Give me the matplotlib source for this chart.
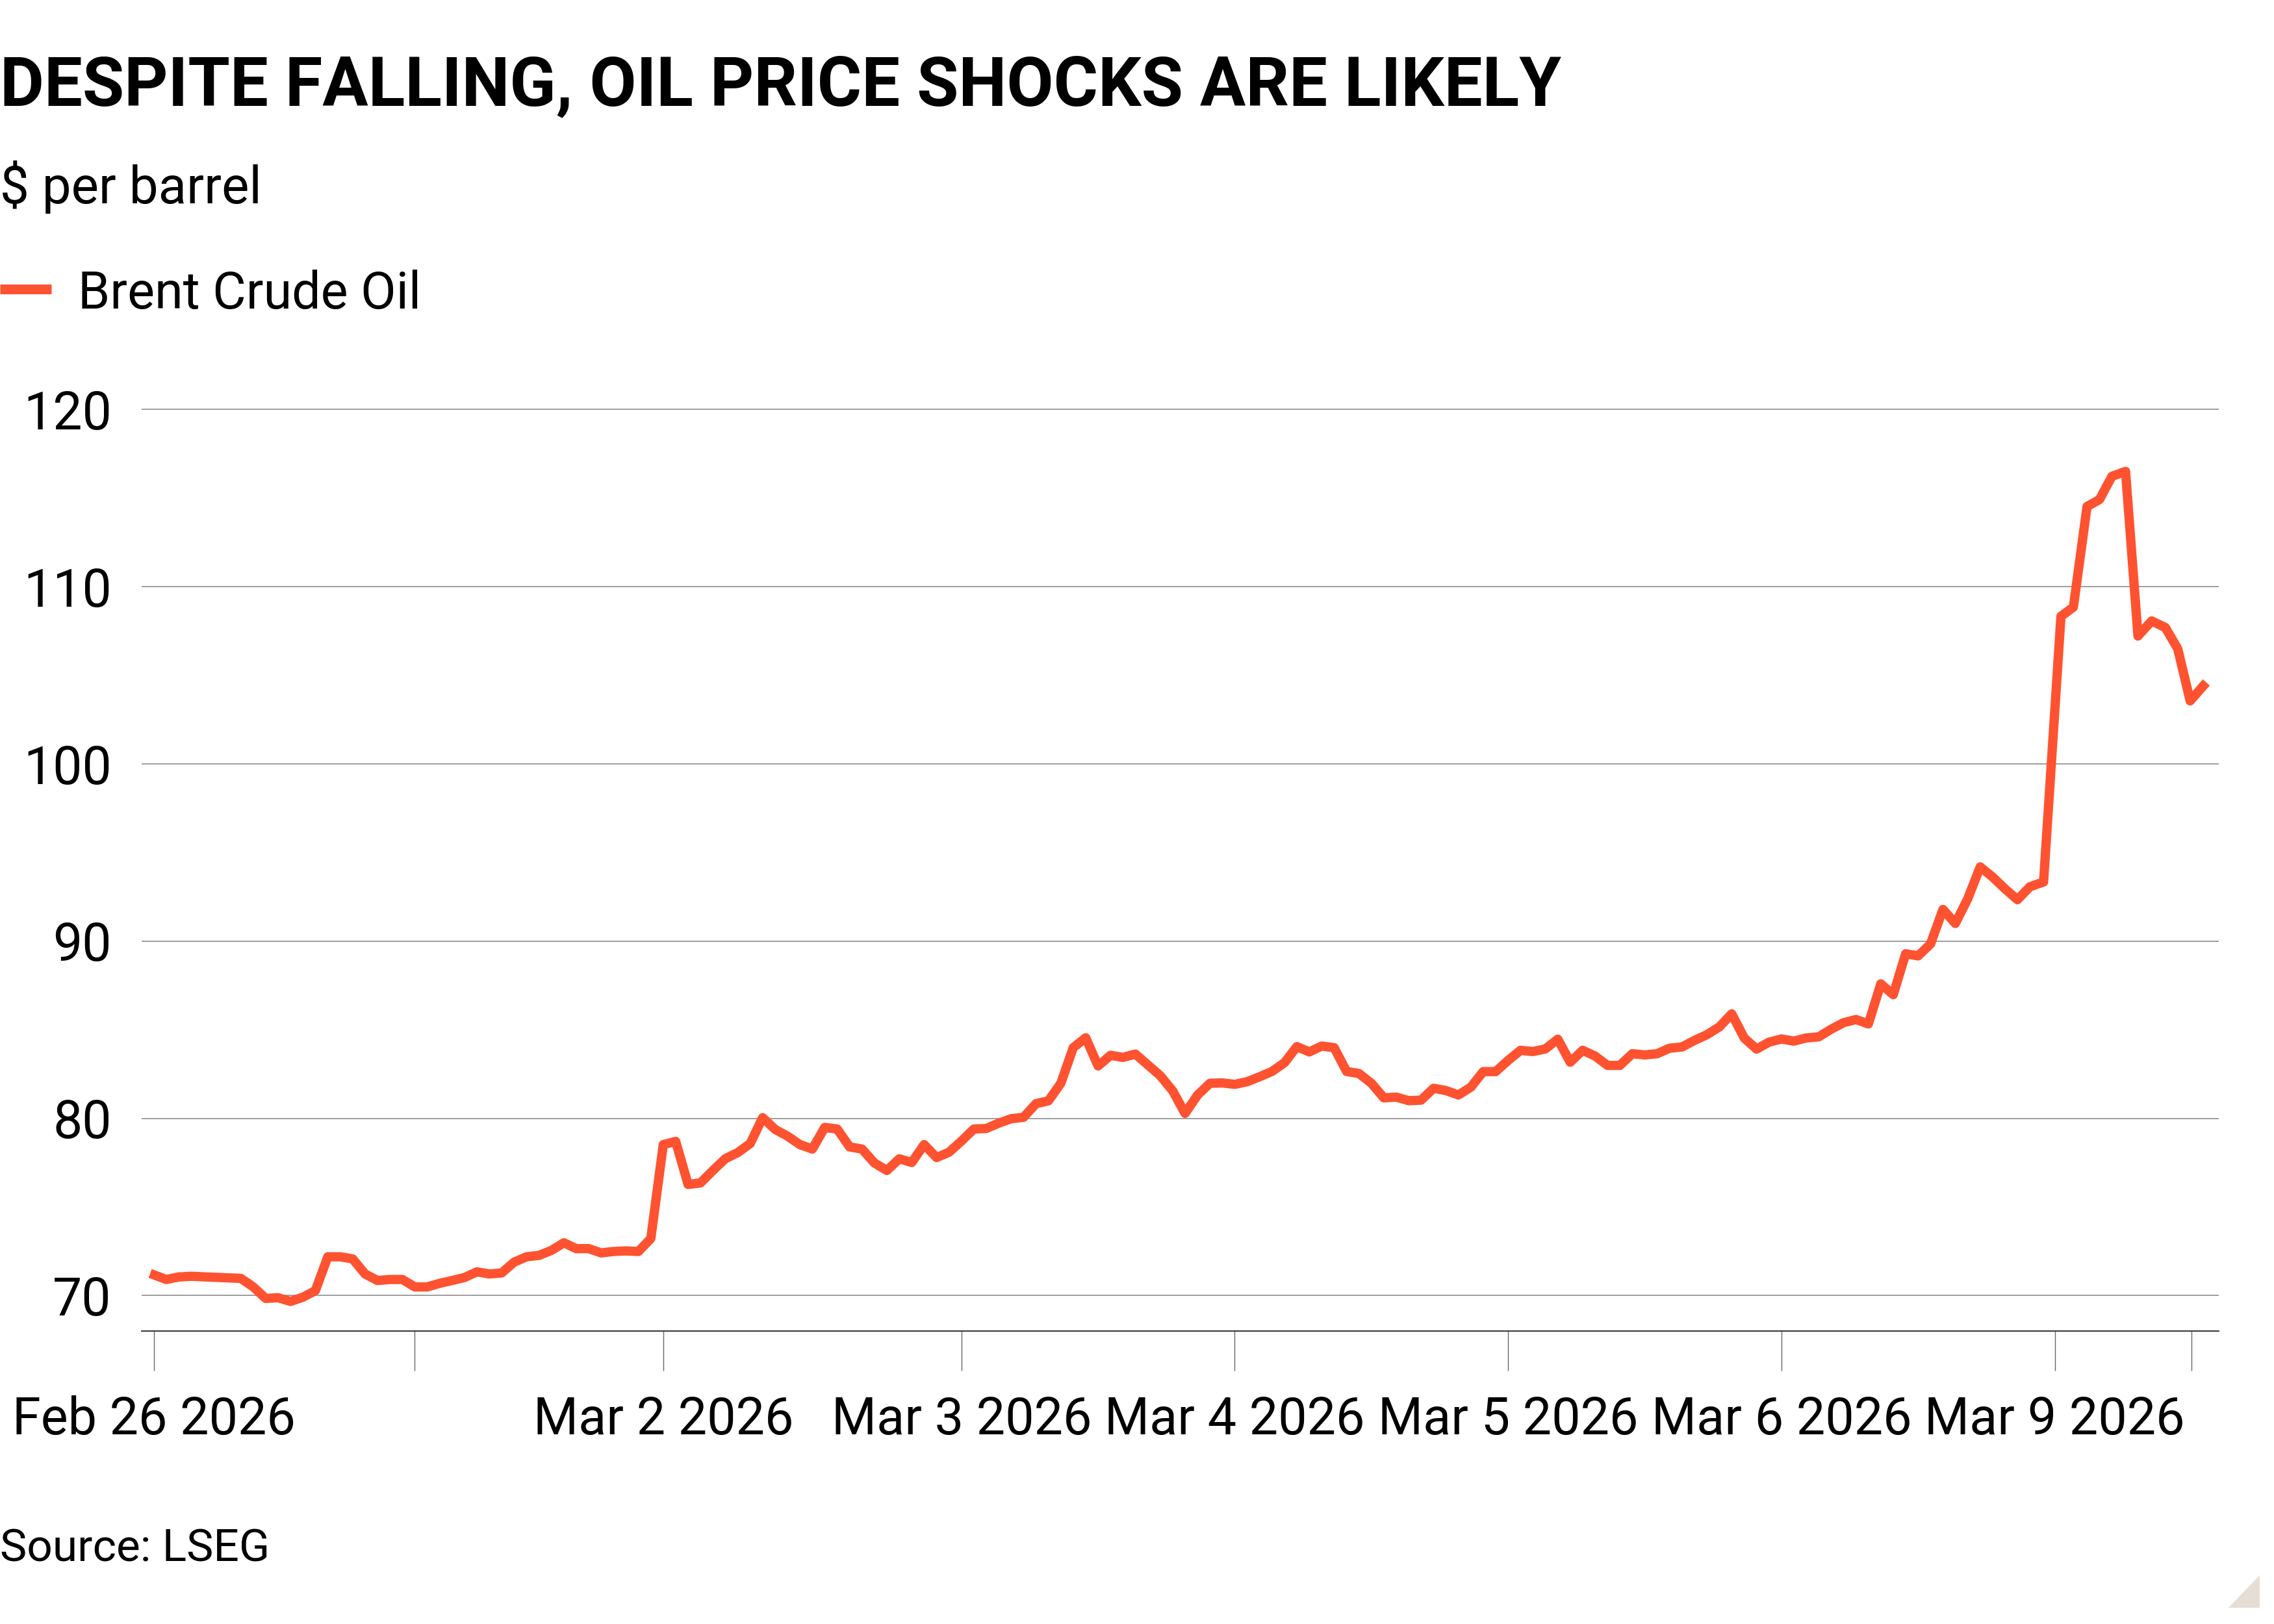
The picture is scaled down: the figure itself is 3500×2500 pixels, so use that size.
import matplotlib.pyplot as plt
from matplotlib.lines import Line2D
from matplotlib.patches import Polygon

plt.rcParams['font.family'] = ['Roboto', 'DejaVu Sans']

# trading-hour index (weekend squeezed out), Feb 26 00:00 = 0
hours = [-0.3, 1, 2, 3, 7, 8, 9, 10, 11, 12, 13, 14, 15, 16, 17, 18, 19, 20,
         21, 22, 23, 24, 25, 26, 27, 28, 29, 30, 31, 32, 33, 34, 35, 36, 37,
         38, 39, 40, 41, 42, 43, 44, 45, 46, 47, 48, 49, 50, 51, 52, 53, 54,
         55, 56, 57, 58, 59, 60, 61, 62, 63, 64, 65, 66, 67, 68, 69, 70, 71,
         72, 73, 74, 75, 76, 77, 78, 79, 80, 81, 82, 83, 84, 85, 86, 87, 88,
         89, 90, 91, 92, 93, 94, 95, 96, 97, 98, 99, 100, 101, 102, 103, 104,
         105, 106, 107, 108, 109, 110, 111, 112, 113, 114, 115, 116, 117, 118,
         119, 120, 121, 122, 123, 124, 125, 126, 127, 128, 129, 130, 131, 132,
         133, 134, 135, 136, 137, 138, 139, 140, 141, 142, 143, 144, 145, 146,
         147, 148, 149, 150, 151, 152.1, 153.5, 154.5, 155.6, 156.6, 157.6,
         158.7, 159.7, 160.8, 161.9, 162.9, 163.9, 165.2]

# Brent crude, $ per barrel
brent = [71.25, 70.91, 71.05, 71.09, 70.97, 70.49, 69.84, 69.88, 69.67, 69.91,
         70.28, 72.19, 72.19, 72.07, 71.22, 70.85, 70.91, 70.91,
         70.49, 70.49, 70.69, 70.85, 71.02, 71.34, 71.22, 71.28, 71.89, 72.19,
         72.27, 72.55, 72.98, 72.65, 72.65, 72.41, 72.49,
         72.52, 72.49, 73.22, 78.52, 78.70, 76.27, 76.36, 77.06, 77.73, 78.07,
         78.58, 80.04, 79.38, 79.00, 78.52, 78.27, 79.49,
         79.40, 78.39, 78.27, 77.48, 77.06, 77.72, 77.51, 78.52, 77.79, 78.09,
         78.72, 79.40, 79.43, 79.73, 79.98, 80.06, 80.83,
         80.99, 81.98, 83.99, 84.55, 82.96, 83.56, 83.44, 83.63, 83.02, 82.41,
         81.56, 80.28, 81.31, 81.98, 82.00, 81.92, 82.07,
         82.35, 82.65, 83.14, 84.05, 83.75, 84.08, 83.99, 82.65, 82.53, 81.98,
         81.16, 81.20, 81.00, 81.03, 81.70, 81.57,
         81.32, 81.76, 82.64, 82.64, 83.27, 83.84, 83.77, 83.92, 84.47, 83.17,
         83.84, 83.52, 82.99, 82.99,
         83.65, 83.58, 83.65, 83.96, 84.03, 84.40, 84.72, 85.16, 85.90, 84.54,
         83.91, 84.30, 84.48, 84.36,
         84.54, 84.60, 85.03, 85.40, 85.58, 85.33, 87.59, 86.98, 89.29, 89.17,
         89.84, 91.79, 91.00, 92.40,
         94.19, 93.62, 92.95, 92.34, 93.07, 93.34, 108.33, 108.85, 114.53,
         114.92, 116.23,
         116.51, 107.22, 108.07, 107.70, 106.50, 103.56, 104.60]

day_ticks = [0, 21, 41, 65, 87, 109, 131, 153, 164]
day_labels = ['Feb 26 2026', '', 'Mar 2 2026', 'Mar 3 2026', 'Mar 4 2026',
              'Mar 5 2026', 'Mar 6 2026', 'Mar 9 2026', '']
price_ticks = [70, 80, 90, 100, 110, 120]

ORANGE = '#ff5230'

fig = plt.figure(figsize=(35, 25), dpi=100)
ax = fig.add_axes([0.0622, 0.1804, 0.9135, 0.5696])

ax.plot(hours, brent, color=ORANGE, lw=10.3,
        solid_joinstyle='round', solid_capstyle='butt', zorder=3)

ax.set_xlim(-1, 166.2)
ax.set_ylim(68, 120.2)

ax.set_xticks(day_ticks)
ax.set_xticklabels(day_labels)
ax.set_yticks(price_ticks)

ax.yaxis.grid(True, color='#8c8c8c', lw=1.2)
ax.set_axisbelow(True)

for side in ['top', 'right', 'left']:
    ax.spines[side].set_visible(False)
ax.spines['bottom'].set_color('#222222')
ax.spines['bottom'].set_linewidth(1.3)

ax.tick_params(axis='x', length=44, width=1, color='#666666', pad=27,
               labelsize=57, labelcolor='black')
ax.tick_params(axis='y', length=0, pad=33, labelsize=58, labelcolor='black')

fig.text(0.0, 0.9352, 'DESPITE FALLING, OIL PRICE SHOCKS ARE LIKELY',
         fontsize=75.3, fontweight='bold', va='baseline')
fig.text(0.0, 0.8748, '$ per barrel', fontsize=57.5, va='baseline')

fig.add_artist(Line2D([0.0, 0.0226], [0.822, 0.822], color=ORANGE, lw=10.8,
                      solid_capstyle='butt'))
fig.text(0.0342, 0.81, 'Brent Crude Oil', fontsize=57, va='baseline')

fig.text(0.0, 0.0388, 'Source: LSEG', fontsize=50, va='baseline')

fig.add_artist(Polygon([(0.98, 0.01), (0.9937, 0.01), (0.9937, 0.03)],
                       closed=True, transform=fig.transFigure,
                       color='#e6ddd4', lw=0))

fig.savefig('out.png', dpi=100)
